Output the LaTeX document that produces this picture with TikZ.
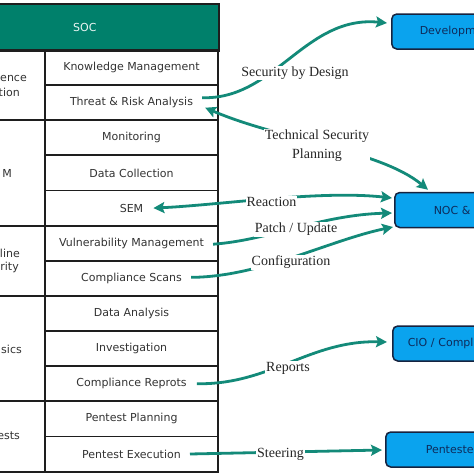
\documentclass[tikz,border=0pt]{standalone}
\usepackage{fontspec}
\setmainfont{Liberation Serif}
\newfontfamily\tabfont{DejaVu Sans}
\usetikzlibrary{arrows.meta,calc}
\definecolor{teal1}{HTML}{00806B}
\definecolor{arrowc}{HTML}{138A79}
\definecolor{boxblue}{HTML}{0AA3EE}
\definecolor{boxline}{HTML}{16233F}
\definecolor{boxtext}{HTML}{0E2C5C}
\definecolor{celltext}{HTML}{333333}
\definecolor{gridc}{HTML}{1E1E1E}
\begin{document}
\begin{tikzpicture}[x=1pt,y=-1pt,
  grid/.style={draw=gridc,line width=1.8pt},
  celltxt/.style={font=\tabfont\fontsize{11}{13}\selectfont, text=celltext, inner sep=0pt},
  flow/.style={draw=arrowc,line width=2.8pt,-{Stealth[length=11pt,width=11pt,inset=2pt]}},
  flowtwo/.style={draw=arrowc,line width=2.8pt,{Stealth[length=11pt,width=11pt,inset=2pt]}-{Stealth[length=11pt,width=11pt,inset=2pt]}},
  lbl/.style={font=\fontsize{14}{19}\selectfont, text=black!85, fill=white, inner sep=1pt, align=center},
  target/.style={draw=boxline, line width=1.5pt, fill=boxblue, rounded corners=5pt, minimum height=35pt, text width=150pt, align=left, anchor=west, font=\tabfont\fontsize{11}{13}\selectfont, text=boxtext}
]
\useasboundingbox (0,0) rectangle (474,474);
\clip (0,0) rectangle (474,474);
\fill[white] (0,0) rectangle (474,474);

% header
\node[fill=teal1, draw=gridc, line width=1.8pt, minimum width=268pt, minimum height=47pt, inner sep=0pt, anchor=north west,
      font=\tabfont\fontsize{11}{13}\selectfont, text=white!92!teal1] (soc) at (-50,3) {SOC};

% grid
\draw[grid] (-50,50) rectangle (218,471.6);
\draw[grid] (45,50) -- (45,471.6);
\foreach \i in {1,...,11} \draw[grid] (45,{50+\i*35.13}) -- (218,{50+\i*35.13});
\foreach \i in {2,5,7,10} \draw[grid] (-50,{50+\i*35.13}) -- (45,{50+\i*35.13});

% cell texts
\foreach \i/\t in {1/Knowledge Management,2/Threat \& Risk Analysis,3/Monitoring,4/Data Collection,5/SEM,
  6/Vulnerability Management,7/Compliance Scans,8/Data Analysis,9/Investigation,10/Compliance Reprots,
  11/Pentest Planning,12/Pentest Execution}
  \node[celltxt] (t\i) at (131.5,{50+(\i-0.5)*35.13}) {\t};

% left column fragments
\node[celltxt, anchor=east] (g1a) at (27,78) {ence};
\node[celltxt, anchor=east] (g1b) at (20,92) {tion};
\node[celltxt, anchor=east] (g2) at (12,173) {M};
\node[celltxt, anchor=east] (g3a) at (20,253) {line};
\node[celltxt, anchor=east] (g3b) at (19,267) {rity};
\node[celltxt, anchor=east] (g4) at (22,349) {sics};
\node[celltxt, anchor=east] (g5) at (20,436) {ests};

% target boxes
\node[target, inner xsep=28pt] (dev) at (391,31.5) {Development};
\node[target, inner xsep=39pt] (noc) at (394,210) {NOC \&};
\node[target, inner xsep=15pt] (cio) at (392,343.5) {CIO / Compliance};
\node[target, inner xsep=40pt] (pen) at (385,449.5) {Pentester};

% connectors
\draw[flow] ($(t2.east)+(9,-5)$) .. controls (275,100) and (305,15) .. ($(dev.west)+(-4,-8.5)$);
\draw[flowtwo] ($(t2.east)+(12,5)$) .. controls (280,140) and (380,150) .. ($(noc.north west)+(34,-2)$);
\draw[flowtwo] ($(t5.east)+(10,0)$) .. controls (220,205) and (320,190) .. ($(noc.west)+(-2,-12)$);
\draw[flow] ($(t6.east)+(9,1)$) .. controls (270,240) and (320,215) .. ($(noc.west)+(-2,3)$);
\draw[flow] ($(t7.east)+(9,-1)$) .. controls (260,277) and (330,240) .. ($(noc.west)+(-1,17)$);
\draw[flow] ($(t10.east)+(10,0)$) .. controls (270,385) and (310,340) .. ($(cio.west)+(-5,-1.5)$);
\draw[flow] ($(t12.east)+(9,0)$) -- ($(pen.west)+(-3,0.5)$);

% labels
\node[lbl] (l1) at (295,73) {Security by Design};
\node[lbl] (l2) at (317,145.5) {Technical Security\\Planning};
\node[lbl] (l3) at (271.5,201.5) {Reaction};
\node[lbl] (l4) at (296,229.5) {Patch / Update};
\node[lbl] (l5) at (291,262.5) {Configuration};
\node[lbl] (l6) at (288,368) {Reports};
\node[lbl] (l7) at (280.5,454) {Steering};
\end{tikzpicture}
\end{document}
